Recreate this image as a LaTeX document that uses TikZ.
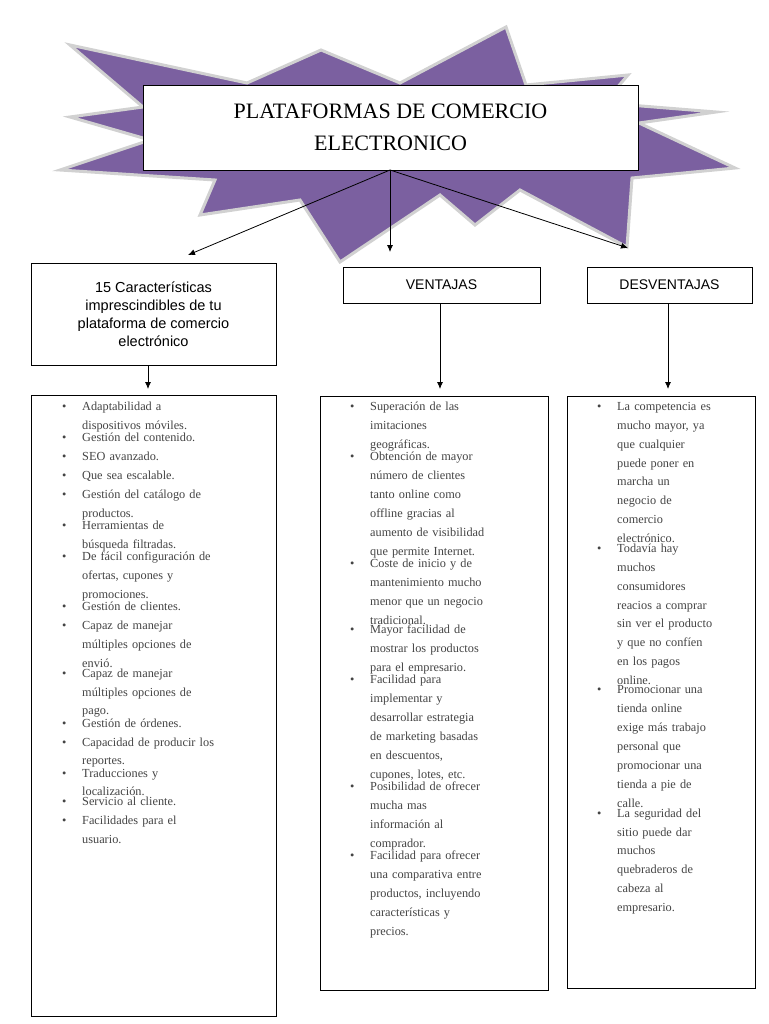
\documentclass[tikz,border=0pt]{standalone}
\usetikzlibrary{arrows.meta}
\usepackage{fontspec}
\setmainfont{Liberation Serif}
\newfontfamily\hsans{Liberation Sans}
\definecolor{starc}{HTML}{7B60A0}
\definecolor{txt}{HTML}{444444}
\newcommand\bl[1]{\noindent\makebox[20pt][l]{\textbullet}\parbox[t]{180pt}{#1}\par}
\begin{document}
\begin{tikzpicture}[x=1pt,y=-1pt,
  box/.style={draw,line width=0.8pt,fill=white},
  arr/.style={-{Latex[length=7pt,width=6pt]},line width=0.8pt},
  lst/.style={box,anchor=north west,inner sep=0pt},
  ltext/.style={anchor=north west,align=left,text width=210pt,font=\fontsize{12.3}{18.9}\selectfont,text=txt,inner sep=0pt}]
\useasboundingbox (0,0) rectangle (768,1024);
\fill[white] (0,0) rectangle (768,1024);
\draw[fill=starc,draw=black!18,line width=3pt,line join=miter]
 (70,45)--(247,83)--(321,50)--(400,83)--(506,27)--(526,85)--(628,75)--(604,103)--(716,112)--(639,123)--(735,168)--(632,178)--(627,247)--(520,190)--(475,225)--(440,195)--(340,262)--(300,200)--(200,215)--(215,180)--(60,170)--(150,140)--(70,117)--(143,107)--cycle;
\node[box,minimum width=495,minimum height=85,align=center,font=\fontsize{22}{32}\selectfont] (t) at (390.5,127.5) {PLATAFORMAS DE COMERCIO\\ELECTRONICO};
\node[box,minimum width=245,minimum height=102,align=center,font=\hsans\fontsize{14.5}{18}\selectfont] (a) at (153.5,314) {15 Características\\imprescindibles de tu\\plataforma de comercio\\electrónico};
\node[box,minimum width=197,minimum height=36,font=\hsans\fontsize{14}{17}\selectfont] (b) at (441.5,285) {VENTAJAS};
\node[box,minimum width=165,minimum height=36,font=\hsans\fontsize{14}{17}\selectfont] (c) at (669.5,285) {DESVENTAJAS};
\coordinate (o) at (390,170);
\draw[arr] (o)--(188,255);
\draw[arr] (o)--(390,252);
\draw[arr] (o)--(628,248);
\node[lst,minimum width=245,minimum height=621] (la) at (31,395) {};
\node[lst,minimum width=228,minimum height=594] (lb) at (320,396) {};
\node[lst,minimum width=188,minimum height=592] (lc) at (567,396) {};
\draw[arr] (148,366)--(148,389);
\draw[arr] (440,303)--(440,389);
\draw[arr] (668,303)--(668,389);
\node[ltext] (ta) at (62,402) {%
\bl{Adaptabilidad a\\dispositivos móviles.}
\bl{Gestión del contenido.}
\bl{SEO avanzado.}
\bl{Que sea escalable.}
\bl{Gestión del catálogo de\\productos.}
\bl{Herramientas de\\búsqueda filtradas.}
\bl{De fácil configuración de\\ofertas, cupones y\\promociones.}
\bl{Gestión de clientes.}
\bl{Capaz de manejar\\múltiples opciones de\\envió.}
\bl{Capaz de manejar\\múltiples opciones de\\pago.}
\bl{Gestión de órdenes.}
\bl{Capacidad de producir los\\reportes.}
\bl{Traducciones y\\localización.}
\bl{Servicio al cliente.}
\bl{Facilidades para el\\usuario.}};
\node[ltext] (tb) at (350,402) {%
\bl{Superación de las\\imitaciones\\geográficas.}
\bl{Obtención de mayor\\número de clientes\\tanto online como\\offline gracias al\\aumento de visibilidad\\que permite Internet.}
\bl{Coste de inicio y de\\mantenimiento mucho\\menor que un negocio\\tradicional.}
\bl{Mayor facilidad de\\mostrar los productos\\para el empresario.}
\bl{Facilidad para\\implementar y\\desarrollar estrategia\\de marketing basadas\\en descuentos,\\cupones, lotes, etc.}
\bl{Posibilidad de ofrecer\\mucha mas\\información al\\comprador.}
\bl{Facilidad para ofrecer\\una comparativa entre\\productos, incluyendo\\características y\\precios.}};
\node[ltext] (tc) at (597,402) {%
\bl{La competencia es\\mucho mayor, ya\\que cualquier\\puede poner en\\marcha un\\negocio de\\comercio\\electrónico.}
\bl{Todavía hay\\muchos\\consumidores\\reacios a comprar\\sin ver el producto\\y que no confíen\\en los pagos\\online.}
\bl{Promocionar una\\tienda online\\exige más trabajo\\personal que\\promocionar una\\tienda a pie de\\calle.}
\bl{La seguridad del\\sitio puede dar\\muchos\\quebraderos de\\cabeza al\\empresario.}};
\end{tikzpicture}
\end{document}
